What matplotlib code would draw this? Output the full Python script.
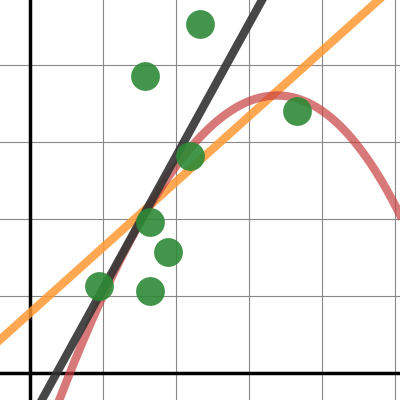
import numpy as np
import matplotlib
matplotlib.use("Agg")
import matplotlib.pyplot as plt

pts_x = [0.95, 1.58, 2.33, 2.19, 1.64, 1.89, 1.64, 3.66]
pts_y = [1.13, 3.86, 4.53, 2.81, 1.96, 1.57, 1.06, 3.40]
orange_coef = [0.85, 0.78]   # slope, intercept
black_coef = [1.72, -0.63]
curve_x = [0.41, 1.0, 1.85, 3.29, 5.07]
curve_y = [-0.35, 1.05, 2.44, 3.61, 2.05]

fig = plt.figure(figsize=(4, 4), dpi=100)
ax = fig.add_axes([0, 0, 1, 1])
x0, x1, y0, y1 = -0.41, 5.07, -0.35, 4.84
ax.set_xlim(x0, x1); ax.set_ylim(y0, y1)
for v in range(0, 6):
    ax.axvline(v, color='#888', lw=0.8, zorder=0)
    ax.axhline(v, color='#888', lw=0.8, zorder=0)
ax.axvline(0, color='black', lw=2.5, zorder=1)
ax.axhline(0, color='black', lw=2.5, zorder=1)
xs = np.linspace(x0, x1, 300)
ax.plot(xs, np.polyval(orange_coef, xs), color='#ff9933', lw=6, alpha=0.85, zorder=2)
c = np.polyfit(curve_x, curve_y, 3)
ax.plot(xs, np.polyval(c, xs), color='#c84040', lw=6, alpha=0.7, zorder=3)
ax.plot(xs, np.polyval(black_coef, xs), color='#333', lw=6, alpha=0.9, zorder=4)
ax.scatter(pts_x, pts_y, s=430, color='#2d8a36', alpha=0.9, zorder=5, linewidths=0)
ax.set_xticks([]); ax.set_yticks([])
for s in ax.spines.values():
    s.set_visible(False)
fig.savefig("out.png", dpi=100)
